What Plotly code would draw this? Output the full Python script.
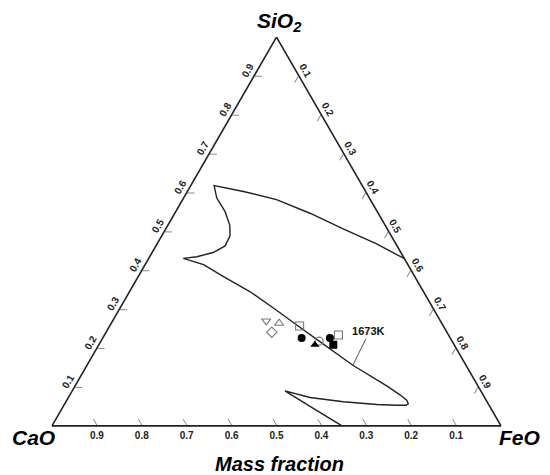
import plotly.graph_objects as go

# ---------------------------- Data (mass fractions) ---------------------------------------------------- #

# 1673K liquidus boundary, traced from the FeO-SiO2 edge round to the CaO-FeO edge
curve_sio2 = [0.43, 0.468, 0.507, 0.547, 0.582, 0.603, 0.618,
              0.586, 0.551, 0.516, 0.489, 0.463, 0.446, 0.435, 0.431,
              0.415, 0.384, 0.345, 0.300, 0.255, 0.218, 0.156, 0.103, 0.080, 0.066, 0.057,
              0.053, 0.053, 0.055, 0.062, 0.073, 0.090,
              0.046, 0.0]
curve_cao = [0.0, 0.043, 0.098, 0.152, 0.209, 0.272, 0.330,
             0.340, 0.339, 0.346, 0.359, 0.383, 0.418, 0.460, 0.492,
             0.455, 0.426, 0.386, 0.353, 0.322, 0.296, 0.252, 0.203, 0.185, 0.177, 0.178,
             0.185, 0.206, 0.249, 0.320, 0.389, 0.436,
             0.396, 0.354]
curve_feo = [0.57, 0.489, 0.395, 0.301, 0.209, 0.125, 0.052,
             0.074, 0.110, 0.138, 0.152, 0.154, 0.136, 0.105, 0.077,
             0.130, 0.190, 0.269, 0.347, 0.423, 0.486, 0.592, 0.694, 0.735, 0.757, 0.765,
             0.762, 0.741, 0.696, 0.618, 0.538, 0.474,
             0.558, 0.646]

# measured slag compositions
open_sio2 = [0.270, 0.264, 0.241, 0.257, 0.218, 0.234]
open_cao = [0.388, 0.362, 0.390, 0.320, 0.296, 0.245]
open_feo = [0.342, 0.374, 0.369, 0.423, 0.486, 0.521]

filled_sio2 = [0.226, 0.209, 0.209, 0.226]
filled_cao = [0.331, 0.310, 0.269, 0.268]
filled_feo = [0.443, 0.481, 0.522, 0.506]

# label and its leader line
label_text = "1673K"
label_sio2, label_cao, label_feo = 0.241, 0.175, 0.584
leader_sio2 = [0.224, 0.156]
leader_cao = [0.189, 0.252]
leader_feo = [0.587, 0.592]

tick_values = [0.1, 0.2, 0.3, 0.4, 0.5, 0.6, 0.7, 0.8, 0.9]

# ---------------------------- Build the figure ------------------------------- #

FONT = "Arial, Liberation Sans, sans-serif"
open_symbols = ["triangle-down-open", "triangle-up-open", "diamond-open",
                "square-open", "circle-open", "square-open"]
filled_symbols = ["circle", "triangle-up", "square", "circle"]

# plot area (the page puts the figure 8px in from the window corner)
L, R, T, B = 44, 57, 29, 57
PAGE_OFFSET = 8

fig = go.Figure()

fig.add_trace(go.Scatterternary(a=curve_sio2, b=curve_cao, c=curve_feo, mode="lines",
                                line=dict(color="#222222", width=1.4), showlegend=False,
                                hoverinfo="skip"))

fig.add_trace(go.Scatterternary(a=leader_sio2, b=leader_cao, c=leader_feo, mode="lines",
                                line=dict(color="#555555", width=1), showlegend=False,
                                hoverinfo="skip"))

fig.add_trace(go.Scatterternary(a=[label_sio2], b=[label_cao], c=[label_feo], mode="text",
                                text=["<b>" + label_text + "</b>"], textposition="middle center",
                                textfont=dict(family=FONT, size=11, color="#111111"),
                                showlegend=False, hoverinfo="skip"))

fig.add_trace(go.Scatterternary(a=open_sio2, b=open_cao, c=open_feo, mode="markers",
                                marker=dict(symbol=open_symbols, size=8, color="#777777",
                                            line=dict(width=1.1, color="#777777")),
                                showlegend=False))

fig.add_trace(go.Scatterternary(a=filled_sio2, b=filled_cao, c=filled_feo, mode="markers",
                                marker=dict(symbol=filled_symbols, size=8, color="black"),
                                showlegend=False))

axis_style = dict(showline=True, linecolor="#222222", linewidth=1.6, showgrid=False,
                  ticks="inside", ticklen=7, tickcolor="#888888", tickwidth=1,
                  tickmode="array", tickvals=tick_values,
                  ticktext=["<b>%.1f</b>" % v for v in tick_values],
                  tickfont=dict(family=FONT, size=10, color="#222222"),
                  title=dict(text=""), min=0)

fig.update_layout(
    width=550, height=475,
    margin=dict(l=L, r=R, t=T, b=B),
    paper_bgcolor="white",
    font=dict(family=FONT),
    ternary=dict(
        sum=1,
        bgcolor="white",
        aaxis=dict(axis_style, tickangle=-60),
        baxis=dict(axis_style),
        caxis=dict(axis_style, tickangle=60),
    ),
)


def px_to_paper(x, y):
    x, y = x - PAGE_OFFSET, y - PAGE_OFFSET
    return (x - L) / (550 - L - R), (475 - B - y) / (475 - T - B)


corner_labels = [("<b><i>SiO<sub>2</sub></i></b>", 279, 22, 21),
                 ("<b><i>CaO</i></b>", 33, 437, 21),
                 ("<b><i>FeO</i></b>", 520, 437, 21),
                 ("<b><i>Mass fraction</i></b>", 279, 464, 20)]
for txt, x, y, size in corner_labels:
    px_, py_ = px_to_paper(x, y)
    fig.add_annotation(text=txt, x=px_, y=py_, xref="paper", yref="paper", showarrow=False,
                       xanchor="center", yanchor="middle",
                       font=dict(family=FONT, size=size, color="black"))

fig.write_html("out.html")
